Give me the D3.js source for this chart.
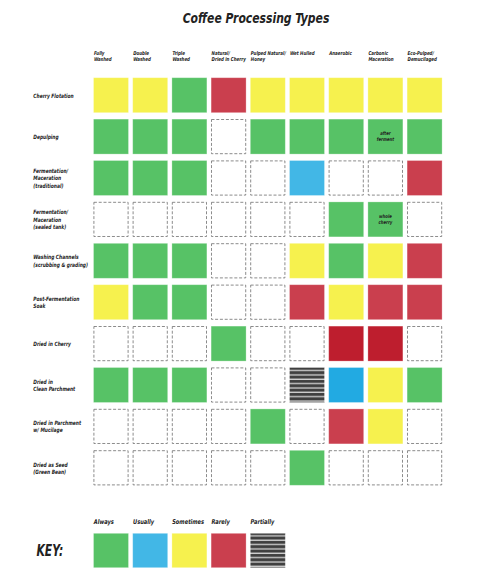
<!DOCTYPE html>
<html>
<head>
<meta charset="utf-8">
<script src="https://cdn.jsdelivr.net/npm/d3@7"></script>
<style>
  html, body { margin: 0; padding: 0; background: #fff; }
  svg { display: block; }
  text { font-family: "Liberation Sans Narrow", "DejaVu Sans Condensed", "Arial Narrow", sans-serif; font-weight: bold; font-style: italic; fill: #222; }
</style>
</head>
<body>
<svg id="chart" width="480" height="587"></svg>
<script>
const title = "Coffee Processing Types";
const columns = [
  ["Fully", "Washed"],
  ["Double", "Washed"],
  ["Triple", "Washed"],
  ["Natural/", "Dried in Cherry"],
  ["Pulped Natural/", "Honey"],
  ["Wet Hulled"],
  ["Anaerobic"],
  ["Carbonic", "Maceration"],
  ["Eco-Pulped/", "Demucilaged"]
];
const rows = [
  ["Cherry Flotation"],
  ["Depulping"],
  ["Fermentation/", "Maceration", "(traditional)"],
  ["Fermentation/", "Maceration", "(sealed tank)"],
  ["Washing Channels", "(scrubbing & grading)"],
  ["Post-Fermentation", "Soak"],
  ["Dried in Cherry"],
  ["Dried in", "Clean Parchment"],
  ["Dried in Parchment", "w/ Mucilage"],
  ["Dried as Seed", "(Green Bean)"]
];
// A = Always, U = Usually, S = Sometimes, R = Rarely, P = Partially, "" = not used
// (U2 / R2 are the deeper shades used in a few cells of the original)
const values = [
  ["S", "S", "A", "R", "S", "S", "S", "S", "S"],
  ["A", "A", "A", "",  "A", "A", "A", "A", "A"],
  ["A", "A", "A", "",  "",  "U", "",  "",  "R"],
  ["",  "",  "",  "",  "",  "",  "A", "A", ""],
  ["A", "A", "A", "",  "",  "S", "A", "S", "R"],
  ["S", "A", "A", "",  "",  "R", "S", "R", "R"],
  ["",  "",  "",  "A", "",  "",  "R2","R2",""],
  ["A", "A", "A", "",  "",  "P", "U2","S", "A"],
  ["",  "",  "",  "",  "A", "",  "R", "S", ""],
  ["",  "",  "",  "",  "",  "A", "",  "",  ""]
];
const notes = [
  { row: 1, col: 7, lines: ["after", "ferment"] },
  { row: 3, col: 7, lines: ["whole", "cherry"] }
];
const keyCodes = ["A", "U", "S", "R", "P"];
const keyLabels = ["Always", "Usually", "Sometimes", "Rarely", "Partially"];

const colors = {
  A: "#57c266", U: "#42b7e6", U2: "#22aae2", S: "#f6f14e",
  R: "#ca3f4e", R2: "#be1e2e"
};

const svg = d3.select("#chart");

// stripes pattern for "Partially"
const defs = svg.append("defs");
const pat = defs.append("pattern")
  .attr("id", "stripes").attr("patternUnits", "userSpaceOnUse")
  .attr("width", 10).attr("height", 4.35).attr("y", 0.6);
pat.append("rect").attr("width", 10).attr("height", 4.35).attr("fill", "#cfcfcf");
pat.append("rect").attr("y", 0.9).attr("width", 10).attr("height", 3.0).attr("fill", "#3f3f3f");

const x = d3.scaleBand().domain(d3.range(columns.length))
  .range([93.5, 442.1]).paddingInner(0.107).paddingOuter(0);
const y = d3.scaleBand().domain(d3.range(rows.length))
  .range([77.7, 485.3]).paddingInner(0.1546).paddingOuter(0);

// place a text (and its tspans) at (px,py), horizontally condensed by k
function place(sel, px, py, k) {
  sel.attr("x", 0).attr("y", 0)
    .attr("transform", (d, i) => `translate(${px(d, i)},${py(d, i)}) scale(${k},1)`);
}
function lines(sel, getLines, lh) {
  sel.selectAll("tspan").data(getLines).join("tspan")
    .attr("x", 0).attr("dy", (d, i) => i === 0 ? 0 : lh).text(d => d);
}

// title
svg.append("text").datum(title)
  .attr("text-anchor", "middle").style("font-size", "14.5px")
  .call(place, () => 256, () => 22.5, 0.83)
  .text(d => d);

// column headers
svg.append("g").selectAll("text").data(columns).join("text")
  .style("font-size", "5.3px")
  .call(place, (d, i) => x(i) + 0.5, () => 55.3, 0.84)
  .call(lines, d => d, 6.2);

// row labels
const lh = 7.4;
svg.append("g").selectAll("text").data(rows).join("text")
  .style("font-size", "5.9px")
  .call(place, () => 33.3,
        (d, i) => y(i) + y.bandwidth() / 2 + 2.4 - (d.length - 1) * lh / 2, 0.83)
  .call(lines, d => d, lh);

// cells
const cells = [];
values.forEach((r, ri) => r.forEach((v, ci) => cells.push({ r: ri, c: ci, v })));

function fillFor(v) { return v === "P" ? "url(#stripes)" : colors[v]; }

const g = svg.append("g");
g.selectAll("rect.filled").data(cells.filter(d => d.v !== "")).join("rect")
  .attr("class", "filled")
  .attr("x", d => x(d.c)).attr("y", d => y(d.r))
  .attr("width", x.bandwidth()).attr("height", y.bandwidth())
  .attr("fill", d => fillFor(d.v))
  .attr("stroke", "#ffffff").attr("stroke-opacity", 0.35).attr("stroke-width", 0.8);

g.selectAll("rect.empty").data(cells.filter(d => d.v === "")).join("rect")
  .attr("class", "empty")
  .attr("x", d => x(d.c) + 0.4).attr("y", d => y(d.r) + 0.4)
  .attr("width", x.bandwidth() - 0.8).attr("height", y.bandwidth() - 0.8)
  .attr("fill", "none").attr("stroke", "#666")
  .attr("stroke-width", 0.75).attr("stroke-dasharray", "3,1.8");

// notes inside cells
g.selectAll("text.note").data(notes).join("text")
  .attr("class", "note").attr("text-anchor", "middle")
  .style("font-size", "5px")
  .call(place, d => x(d.col) + x.bandwidth() / 2,
        d => y(d.row) + y.bandwidth() / 2 - 1.6, 0.85)
  .call(lines, d => d.lines, 6.2);

// key
const keyTop = 533.3, keyH = 34.4;
svg.append("text").datum("KEY:")
  .style("font-size", "16px")
  .call(place, () => 36.5, () => 555.8, 0.75)
  .text(d => d);
const kg = svg.append("g");
kg.selectAll("text").data(keyLabels).join("text")
  .style("font-size", "6.6px")
  .call(place, (d, i) => x(i) + 0.3, () => 524, 0.86)
  .text(d => d);
kg.selectAll("rect").data(keyCodes).join("rect")
  .attr("x", (d, i) => x(i)).attr("y", keyTop)
  .attr("width", x.bandwidth()).attr("height", keyH)
  .attr("fill", d => fillFor(d))
  .attr("stroke", "#ffffff").attr("stroke-opacity", 0.35).attr("stroke-width", 0.8);
</script>
</body>
</html>
